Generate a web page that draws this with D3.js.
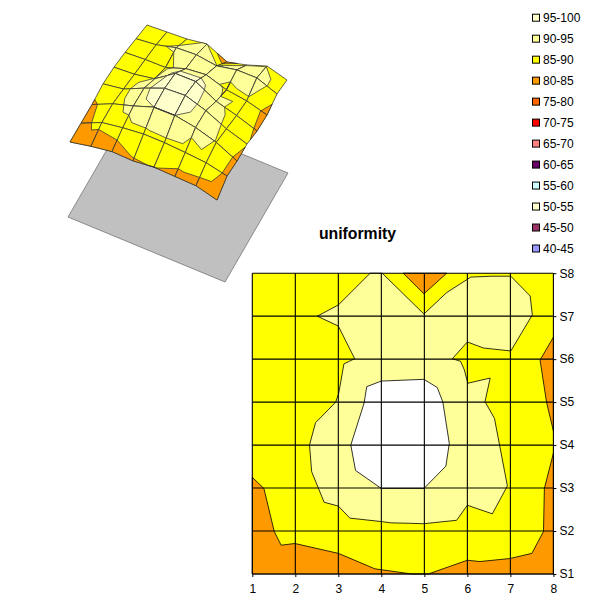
<!DOCTYPE html>
<html><head><meta charset="utf-8">
<script src="https://cdnjs.cloudflare.com/ajax/libs/d3/7.8.5/d3.min.js"></script>
<style>html,body{margin:0;padding:0;background:#fff}svg{display:block}text{font-family:"Liberation Sans",Arial,sans-serif}</style>
</head><body><svg id="c" width="600" height="600"></svg>
<script>
// ---------- data ----------
const title = "uniformity";
const xTicks = [1,2,3,4,5,6,7,8];
const yTicks = ["S1","S2","S3","S4","S5","S6","S7","S8"];
const legendLabels = ["95-100","90-95","85-90","80-85","75-80","70-75","65-70","60-65","55-60","50-55","45-50","40-45"];
const legendColors = ["#FFFFCC","#FFFF99","#FFFF00","#FF9900","#FF6600","#FF0000","#FF8080","#660066","#CCFFFF","#FFFFCC","#993366","#9999FF"];
// surface heights: rows S1..S8, columns 1..8
const zS1 = [80,82,83.5,83,84,83.5,83,80];
const zS2 = [82,86.5,88,89,88.8,88,87,84.5];
const zS3 = [84,88.5,91.5,95,95,93,89.7,84.5];
const zS4 = [87,88.5,93,97,97.5,94,89,85.5];
const zS5 = [88,88.5,90.3,97,97,91.2,88.2,84.5];
const zS6 = [88,88.5,88.5,92,93,89.5,88,85];
const zS7 = [87.5,88.5,91,91.5,90,92,92,88];
const zS8 = [87,87.5,88,89.5,84.5,87,90.5,87.5];
const zGrid = [zS1,zS2,zS3,zS4,zS5,zS6,zS7,zS8];
// contour bands, [column, row] in chart units
const orangeBottom = [[1,1],[1,3.25],[1.27,2.99],[1.51,1.99],[1.67,1.67],[1.99,1.71],[3,1.48],[3.85,1.12],[4.71,1],[5.09,1],[6,1.32],[6.29,1.29],[6.99,1.36],[7.5,1.48],[7.77,1.99],[7.79,2.99],[8,3.81],[8,1]];
const orangeRight = [[8,4.33],[7.84,5],[7.69,5.98],[8,6.51]];
const orangeTop = [[4.51,8],[4.99,7.52],[5.52,8]];
const paleBand = [[3.74,8],[3,7.26],[2.51,7],[3,6.77],[3.38,6.01],[3.13,5.89],[3.01,5.21],[2.94,5],[2.47,4.52],[2.33,4],[2.38,3.38],[2.67,2.67],[3,2.58],[3.27,2.3],[4,2.22],[4.22,2.19],[4.67,2.18],[4.98,2.17],[5.75,2.25],[6,2.6],[6.58,2.4],[6.93,3.05],[6.63,4.62],[6.41,5.01],[6.53,5.56],[6.01,5.44],[5.93,5.75],[5.84,5.95],[5.65,6.01],[6,6.4],[6.37,6.26],[7.01,6.19],[7.51,7.03],[7.46,7.47],[7.01,7.93],[6.57,7.93],[6.08,7.91],[5.52,7.55],[4.99,7.05],[4.02,8]];
const whiteBand = [[4,5.49],[4.99,5.53],[5.3,5.34],[5.43,5],[5.58,4.04],[5.5,3.51],[4.99,2.99],[4,2.99],[3.4,3.41],[3.29,4],[3.6,4.98],[3.66,5.36]];

// ---------- drawing ----------
const svg = d3.select("#c");
const YEL="#FFFF00", ORG="#FF9900", PALE="#FFFF99";
const x = d3.scaleLinear().domain([1,8]).range([252.3,553.4]);
const y = d3.scaleLinear().domain([1,8]).range([574,273.2]);
const line2d = d3.line().x(d=>x(d[0])).y(d=>y(d[1])).curve(d3.curveLinearClosed);

// 3D view: bilinear between the plot's corners, raised by height
const corner = {a:[70,132],b:[217,190],c:[287,85],d:[147,29]}, hScale=2, zRef=85;
const floorC = {a:[68,217],b:[225,282],c:[288,173]};
function zAt(cx,cy){
  const i=Math.min(6,Math.floor(cx-1)), j=Math.min(6,Math.floor(cy-1));
  const u=cx-1-i, v=cy-1-j;
  return (1-v)*((1-u)*zGrid[j][i]+u*zGrid[j][i+1])+v*((1-u)*zGrid[j+1][i]+u*zGrid[j+1][i+1]);
}
const uS=d3.scaleLinear().domain([1,8]).range([0,1]);
function proj(p,zv){
  const u=uS(p[0]), v=uS(p[1]), z=zv===undefined?zAt(p[0],p[1]):zv;
  const px=(1-v)*((1-u)*corner.a[0]+u*corner.b[0])+v*((1-u)*corner.d[0]+u*corner.c[0]);
  const py=(1-v)*((1-u)*corner.a[1]+u*corner.b[1])+v*((1-u)*corner.d[1]+u*corner.c[1]);
  return [px,py-hScale*(z-zRef)];
}
function clipRect(poly,x0,x1,y0,y1){
  const edges=[[p=>p[0]>=x0,(a,b)=>{const t=(x0-a[0])/(b[0]-a[0]);return [x0,a[1]+t*(b[1]-a[1])]}],
    [p=>p[0]<=x1,(a,b)=>{const t=(x1-a[0])/(b[0]-a[0]);return [x1,a[1]+t*(b[1]-a[1])]}],
    [p=>p[1]>=y0,(a,b)=>{const t=(y0-a[1])/(b[1]-a[1]);return [a[0]+t*(b[0]-a[0]),y0]}],
    [p=>p[1]<=y1,(a,b)=>{const t=(y1-a[1])/(b[1]-a[1]);return [a[0]+t*(b[0]-a[0]),y1]}]];
  let out=poly;
  for(const [inside,cut] of edges){
    const inp=out; out=[];
    inp.forEach((p,k)=>{
      const q=inp[(k+1)%inp.length], pi=inside(p), qi=inside(q);
      if(pi) out.push(p);
      if(pi!==qi) out.push(cut(p,q));
    });
    if(!out.length) break;
  }
  return out;
}
// floor
const fx=(p)=>[floorC.a[0]+uS(p[0])*(floorC.b[0]-floorC.a[0])+uS(p[1])*(floorC.c[0]-floorC.b[0]),
               floorC.a[1]+uS(p[0])*(floorC.b[1]-floorC.a[1])+uS(p[1])*(floorC.c[1]-floorC.b[1])];
const lineRaw=d3.line().curve(d3.curveLinearClosed);
svg.append("path").attr("d",lineRaw([[1,1],[8,1],[8,8],[1,8]].map(fx))).attr("fill","#C0C0C0").attr("stroke","#666").attr("stroke-width",0.7);
// surface, back to front
const g3=svg.append("g").attr("stroke","#333").attr("stroke-width",0.75).attr("stroke-linejoin","round");
const bands3=[[orangeBottom,ORG],[orangeRight,ORG],[orangeTop,ORG],[paleBand,PALE],[whiteBand,"#FFFFCC"]];
for(let j=7;j>=1;j--) for(let i=1;i<=7;i++){
  const cell=[[i,j],[i+1,j],[i+1,j+1],[i,j+1]];
  g3.append("path").attr("d",lineRaw(cell.map(p=>proj(p)))).attr("fill",YEL);
  for(const [poly,col] of bands3){
    const c=clipRect(poly,i,i+1,j,j+1);
    if(c.length>2) g3.append("path").attr("d",lineRaw(c.map(p=>proj(p)))).attr("fill",col);
  }
}
// 2D chart
const g=svg.append("g");
g.append("rect").attr("x",x(1)).attr("y",y(8)).attr("width",x(8)-x(1)).attr("height",y(1)-y(8)).attr("fill",YEL);
[[orangeBottom,ORG],[orangeRight,ORG],[orangeTop,ORG],[paleBand,PALE],[whiteBand,"#FFFFFF"]].forEach(([p,c])=>{
  g.append("path").attr("d",line2d(p)).attr("fill",c).attr("stroke","#000").attr("stroke-width",0.8);
});
const grid=g.append("g").attr("stroke","#000").attr("stroke-width",1.1);
xTicks.forEach(t=>grid.append("line").attr("x1",x(t)).attr("x2",x(t)).attr("y1",y(1)).attr("y2",y(8)));
yTicks.forEach((t,k)=>grid.append("line").attr("x1",x(1)).attr("x2",x(8)).attr("y1",y(k+1)).attr("y2",y(k+1)));
const axB=svg.append("g").attr("transform",`translate(0,${y(1)})`).call(d3.axisBottom(x).tickValues(xTicks).tickFormat(d3.format("d")).tickSize(3).tickPadding(7));
const axR=svg.append("g").attr("transform",`translate(${x(8)},0)`).call(d3.axisRight(y).tickValues(d3.range(1,9)).tickFormat(d=>yTicks[d-1]).tickSize(3).tickPadding(3));
[axB,axR].forEach(a=>{a.select(".domain").remove();a.selectAll("line").attr("stroke","#000");
  a.selectAll("text").attr("font-size",12).attr("font-family","Liberation Sans").attr("fill","#000");});
// title
svg.append("text").attr("x",357.5).attr("y",238.5).attr("text-anchor","middle").attr("font-size",15.8).attr("font-weight","bold").text(title);
// legend
const ly=d3.scalePoint().domain(legendLabels).range([17.7,248.5]);
const lg=svg.append("g");
legendLabels.forEach((l,k)=>{
  lg.append("rect").attr("x",532.5).attr("y",ly(l)-3.5).attr("width",7).attr("height",7).attr("fill",legendColors[k]).attr("stroke","#000").attr("stroke-width",1);
  lg.append("text").attr("x",543).attr("y",ly(l)+4.5).attr("font-size",12).text(l);
});
</script></body></html>
